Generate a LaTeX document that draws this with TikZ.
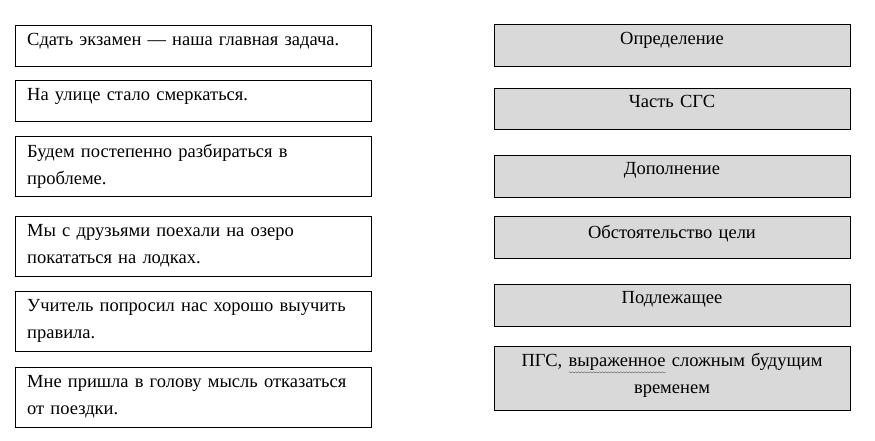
\documentclass[tikz,border=0pt]{standalone}
\usepackage{fontspec}
\setmainfont{Liberation Serif}
\usetikzlibrary{decorations.pathmorphing}
\newcommand{\mywavy}[1]{\tikz[baseline=(w.base)]{\node[inner sep=0pt,outer sep=0pt](w){#1};\draw[decorate,decoration={snake,amplitude=0.6pt,segment length=3pt},black!60,line width=0.4pt] ([yshift=-2pt]w.south west) -- ([yshift=-2pt]w.south east);}}
\begin{document}
\begin{tikzpicture}[x=1pt,y=-1pt,
  lbox/.style={draw=black,line width=0.8pt,fill=white},
  rbox/.style={draw=black,line width=0.8pt,fill=gray!30},
  ltxt/.style={anchor=north west,inner sep=0pt,text width=345pt,align=left,font=\fontsize{18.5}{27}\selectfont},
  rtxt/.style={anchor=north,inner sep=0pt,text width=350pt,align=center,font=\fontsize{18.5}{27}\selectfont}]
\useasboundingbox (0,0) rectangle (875,440);
\foreach \n/\a/\b in {l1/25/66,l2/80/121,l3/136/196,l4/216/276,l5/291/351,l6/367/427}
  \draw[lbox] (15,\a) rectangle (371,\b) coordinate (\n);
\foreach \n/\a/\b in {r1/24/66,r2/88/129,r3/155/197,r4/216/258,r5/284/326,r6/346/410}
  \draw[rbox] (494,\a) rectangle (850,\b) coordinate (\n);
\node[ltxt] (t1) at (27,33) {Сдать экзамен — наша главная задача.};
\node[ltxt] (t2) at (27,88) {На улице стало смеркаться.};
\node[ltxt] (t3) at (27,144) {Будем постепенно\ разбираться в\\проблеме.};
\node[ltxt] (t4) at (27,224) {Мы с друзьями поехали на озеро\\покататься на лодках.};
\node[ltxt] (t5) at (27,299) {Учитель попросил нас хорошо выучить\\правила.};
\node[ltxt] (t6) at (27,375) {Мне пришла в голову мысль отказаться\\от поездки.};
\node[rtxt] (s1) at (672,32) {Определение};
\node[rtxt] (s2) at (672,95) {Часть СГС};
\node[rtxt] (s3) at (672,162) {Дополнение};
\node[rtxt] (s4) at (672,225) {Обстоятельство цели};
\node[rtxt] (s5) at (672,291) {Подлежащее};
\node[rtxt] (s6) at (672,353) {ПГС, \mywavy{выраженное} сложным будущим\\временем};
\end{tikzpicture}
\end{document}
